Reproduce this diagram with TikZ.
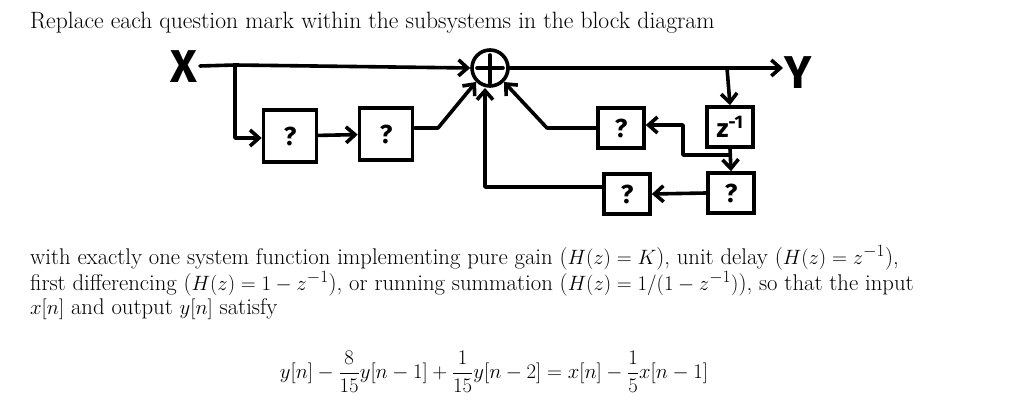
\documentclass[tikz,border=0pt]{standalone}
\usepackage{fontspec}
\usepackage{amsmath}
\newfontfamily\hand{Fira Sans}
\usetikzlibrary{arrows.meta}
\begin{document}
\begin{tikzpicture}[x=1pt,y=-1pt,
  w/.style={line width=3.6pt,line cap=round,line join=round},
  a/.style={w,-{Straight Barb[length=9pt,width=16pt,line width=3.6pt]}},
  box/.style={draw,line width=3.6pt,minimum width=46pt,minimum height=40pt,inner sep=0pt,font=\hand\bfseries\fontsize{26}{26}\selectfont},
  big/.style={minimum width=53pt,minimum height=52pt},
  hl/.style={font=\hand\bfseries\fontsize{46}{46}\selectfont,inner sep=0pt},
  txt/.style={anchor=west,inner sep=0pt,font=\fontsize{22.7}{24}\selectfont}]
\useasboundingbox (0,0) rectangle (1024,419);
\node[txt,font=\fontsize{23.6}{24}\selectfont] (title) at (30,23) {Replace each question mark within the subsystems in the block diagram};
\node[hl] (X) at (184,67) {X};
\node[hl] (Y) at (798,73) {Y};
\node[draw,circle,line width=3.6pt,minimum width=36pt,minimum height=36pt,inner sep=0pt] (S) at (490,68) {};
\draw[w] (477,68)--(503,68) (490,55)--(490,83);
\node[box,big] (b1) at (290,136) {?};
\node[box,big] (b2) at (386,134) {?};
\node[box] (d) at (730,127) {z\textsuperscript{-1}};
\node[box] (b5) at (731,193) {?};
\node[box] (b3) at (621,128) {?};
\node[box] (b4) at (627,194) {?};
\coordinate (j1) at (235,65);
\coordinate (j2) at (727,68);
\coordinate (j3) at (730,155);
\coordinate (out) at (783,68);
\draw[a] (200,66) -- (j1) -- (S.west);
\draw[a] (j1) -- (235,138) -- (b1.west|-0,138);
\draw[a] (b1) -- (b2);
\draw[a] (b2.east|-0,128) -- (438,128) -- (S.south west);
\draw[a] (S.east) -- (out);
\draw[a] (j2) -- (d.north);
\draw[a] (d.south) -- (b5.north);
\draw[a] (j3) -- (683,155) -- (683,125) -- (b3.east|-0,125);
\draw[a] (b3.west) -- (547,128) -- (S.south east);
\draw[a] (b5.west) -- (b4.east);
\draw[a] (b4.west|-0,187) -- (485,187) -- (485,88);
\node[txt] (p1) at (30,258) {with exactly one system function implementing pure gain ($H(z)=K$), unit delay ($H(z)=z^{-1}$),};
\node[txt] (p2) at (30,284) {first differencing ($H(z)=1-z^{-1}$), or running summation ($H(z)=1/(1-z^{-1})$), so that the input};
\node[txt] (p3) at (30,309) {$x[n]$ and output $y[n]$ satisfy};
\node[inner sep=0pt,font=\fontsize{21.4}{24}\selectfont] (eq) at (494,372) {$y[n]-\dfrac{8}{15}y[n-1]+\dfrac{1}{15}y[n-2]=x[n]-\dfrac{1}{5}x[n-1]$};
\end{tikzpicture}
\end{document}
